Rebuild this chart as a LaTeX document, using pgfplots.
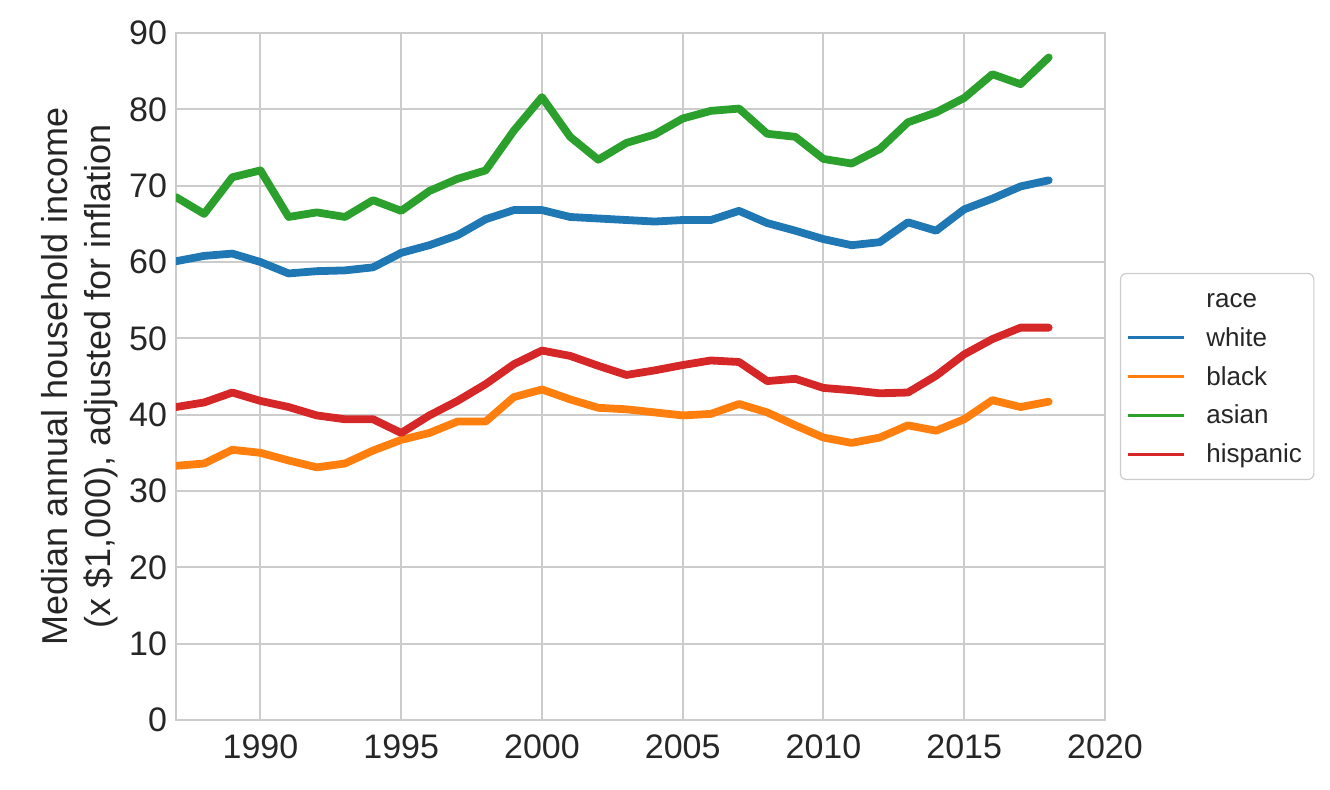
\documentclass[border=0pt]{standalone}
\usepackage{fontspec}
\setmainfont{Liberation Sans}
\usepackage{pgfplots}
\pgfplotsset{compat=1.18}

\definecolor{cwhite}{HTML}{1F77B4}
\definecolor{cblack}{HTML}{FF7F0E}
\definecolor{casian}{HTML}{2CA02C}
\definecolor{chisp}{HTML}{D62728}
\definecolor{gridgray}{HTML}{CCCCCC}
\definecolor{txt}{HTML}{262626}

\begin{document}
\begin{tikzpicture}
  \path[use as bounding box] (0,0) rectangle (665pt,395pt);
  \begin{axis}[
      at={(88pt,35pt)},
      anchor=south west,
      scale only axis,
      width=464.5pt,
      height=343.5pt,
      xmin=1987, xmax=2020,
      ymin=0, ymax=90,
      xtick={1990,1995,...,2020},
      ytick={0,10,...,90},
      /pgf/number format/1000 sep={},
      /pgf/number format/assume math mode=true,
      grid=major,
      major grid style={draw=gridgray, line width=1pt},
      axis line style={draw=gridgray, line width=0.7pt},
      major tick length=0pt,
      tick label style={font=\fontsize{17}{20}\selectfont, text=txt},
      xticklabel style={yshift=-4pt},
      yticklabel style={xshift=-1pt},
      ylabel={Median annual household income\\(x \$1,000), adjusted for inflation},
      ylabel style={align=center, font=\fontsize{18}{21.5}\selectfont, text=txt,
                    at={(axis description cs:-0.104,0.5)}, anchor=center},
      legend style={at={(1.016,0.5)}, anchor=west, draw=gridgray, line width=0.6pt,
                    rounded corners=3pt, fill=white, text=txt,
                    font=\fontsize{13}{16}\selectfont,
                    inner xsep=3pt, inner ysep=3pt,
                    nodes={inner ysep=1.5pt, inner xsep=3pt, text height=12.5pt, text depth=3.9pt},
                    column sep=7.5pt},
      legend cell align=left,
      legend image code/.code={\draw[line width=1.5pt, line cap=butt] (0pt,0pt) -- (28pt,0pt);},
      every axis plot/.append style={line width=3.9pt, line join=round, line cap=round},
  ]
    \addlegendimage{empty legend}
    \addlegendentry{race}

    \addplot[cwhite] coordinates {
      (1987,60.1) (1988,60.8) (1989,61.1) (1990,60.0) (1991,58.5) (1992,58.8)
      (1993,58.9) (1994,59.3) (1995,61.2) (1996,62.2) (1997,63.5) (1998,65.6)
      (1999,66.8) (2000,66.8) (2001,65.9) (2002,65.7) (2003,65.5) (2004,65.3)
      (2005,65.5) (2006,65.5) (2007,66.7) (2008,65.1) (2009,64.1) (2010,63.0)
      (2011,62.2) (2012,62.6) (2013,65.2) (2014,64.1) (2015,66.9) (2016,68.3)
      (2017,69.9) (2018,70.7)
    };
    \addlegendentry{white}

    \addplot[cblack] coordinates {
      (1987,33.3) (1988,33.6) (1989,35.4) (1990,35.0) (1991,34.0) (1992,33.1)
      (1993,33.6) (1994,35.3) (1995,36.7) (1996,37.6) (1997,39.1) (1998,39.1)
      (1999,42.3) (2000,43.3) (2001,42.0) (2002,40.9) (2003,40.7) (2004,40.3)
      (2005,39.9) (2006,40.1) (2007,41.4) (2008,40.3) (2009,38.6) (2010,37.0)
      (2011,36.3) (2012,37.0) (2013,38.6) (2014,37.9) (2015,39.4) (2016,41.9)
      (2017,41.0) (2018,41.7)
    };
    \addlegendentry{black}

    \addplot[casian] coordinates {
      (1987,68.5) (1988,66.3) (1989,71.1) (1990,72.0) (1991,65.9) (1992,66.5)
      (1993,65.9) (1994,68.1) (1995,66.7) (1996,69.3) (1997,70.9) (1998,72.0)
      (1999,77.2) (2000,81.6) (2001,76.4) (2002,73.4) (2003,75.6) (2004,76.7)
      (2005,78.8) (2006,79.8) (2007,80.1) (2008,76.8) (2009,76.4) (2010,73.5)
      (2011,72.9) (2012,74.8) (2013,78.3) (2014,79.6) (2015,81.5) (2016,84.6)
      (2017,83.3) (2018,86.8)
    };
    \addlegendentry{asian}

    \addplot[chisp] coordinates {
      (1987,41.0) (1988,41.6) (1989,42.9) (1990,41.8) (1991,41.0) (1992,39.9)
      (1993,39.4) (1994,39.4) (1995,37.6) (1996,39.9) (1997,41.8) (1998,44.0)
      (1999,46.6) (2000,48.4) (2001,47.7) (2002,46.4) (2003,45.2) (2004,45.8)
      (2005,46.5) (2006,47.1) (2007,46.9) (2008,44.4) (2009,44.7) (2010,43.5)
      (2011,43.2) (2012,42.8) (2013,42.9) (2014,45.1) (2015,47.9) (2016,49.9)
      (2017,51.4) (2018,51.4)
    };
    \addlegendentry{hispanic}
  \end{axis}
\end{tikzpicture}
\end{document}
